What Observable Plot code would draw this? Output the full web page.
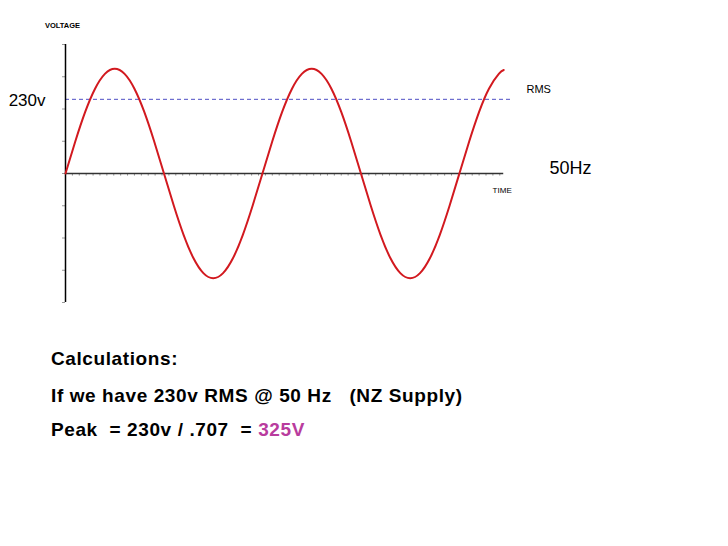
<!DOCTYPE html>
<html>
<head>
<meta charset="utf-8">
<script src="https://cdn.jsdelivr.net/npm/d3@7"></script>
<script src="https://cdn.jsdelivr.net/npm/@observablehq/plot@0.6"></script>
<style>
  body { margin: 0; background: #fff; }
  #wrap { position: relative; width: 728px; height: 546px; font-family: "Liberation Sans", Arial, sans-serif; }
  .calc { position: absolute; left: 51px; font-weight: bold; font-size: 19px; letter-spacing: 0.6px; color: #000; white-space: pre; line-height: 20px; }
  .peak { color: #b93c9e; }
</style>
</head>
<body>
<div id="wrap"></div>
<script>
// Time (ms) and voltage (V) samples (50 Hz, 325 V peak)
const timeMs = [0,1,2,3,4,5,6,7,8,9,10,11,12,13,14,15,16,17,18,19,20,21,22,23,24,25,26,27,28,29,30,31,32,33,34,35,36,37,38,39,40,41,42,43,44,44.5];
const voltage = [0,100,191,263,309,325,309,263,191,100,0,-100,-191,-263,-309,-325,-309,-263,-191,-100,0,100,191,263,309,325,309,263,191,100,0,-100,-191,-263,-309,-325,-309,-263,-191,-100,0,100,191,263,309,321];
const rmsVolts = 230;
const yTicks = [-400,-300,-200,-100,0,100,200,300,400];
const labels = ["VOLTAGE", "230v", "RMS", "50Hz", "TIME"];
const calcLines = ["Calculations:", "If we have 230v RMS @ 50 Hz   (NZ Supply)", "Peak  = 230v / .707  = "];
const peakText = "325V";

const wave = timeMs.map((t, i) => ({t, v: voltage[i]}));
const tEnd = timeMs[timeMs.length - 1];

const chart = Plot.plot({
  width: 728,
  height: 320,
  marginLeft: 65,
  marginRight: 210,
  marginTop: 44,
  marginBottom: 18,
  x: {domain: [0, 46], axis: null},
  y: {domain: [-400, 400], axis: null},
  style: {fontFamily: "Liberation Sans, Arial, sans-serif", background: "#fff"},
  marks: [
    Plot.axisY({ticks: yTicks, tickSize: 3, tickFormat: () => "", label: null, stroke: "#999", strokeWidth: 1}),
    Plot.ruleX(d3.range(0.7, tEnd, 0.7), {x: d => d, y1: 0, y2: -8, stroke: "#777", strokeWidth: 0.8}),
    Plot.ruleY([0], {x1: 0, x2: tEnd, stroke: "#333", strokeWidth: 1.5}),
    Plot.ruleY([rmsVolts], {x1: 0, x2: 45.4, stroke: "#4f4fc4", strokeWidth: 1, strokeDasharray: "4,3"}),
    Plot.ruleX([0], {y1: -400, y2: 400, stroke: "#000", strokeWidth: 1.5}),
    Plot.line(wave, {x: "t", y: "v", curve: "natural", stroke: "#d2191f", strokeWidth: 2}),
    Plot.text([labels[0]], {x: 0, y: 400, text: d => d, dx: -3, dy: -19, fontSize: 7.5, fontWeight: "bold", textAnchor: "middle", fill: "#000"}),
    Plot.text([labels[1]], {x: 0, y: rmsVolts, text: d => d, dx: -20, dy: 1, fontSize: 17, textAnchor: "end", fill: "#000"}),
    Plot.text([labels[2]], {x: 46, y: rmsVolts, text: d => d, dx: 8, dy: -10, fontSize: 11, textAnchor: "start", fill: "#000"}),
    Plot.text([labels[3]], {x: 46, y: 0, text: d => d, dx: 31, dy: -5, fontSize: 18, textAnchor: "start", fill: "#000"}),
    Plot.text([labels[4]], {x: tEnd, y: 0, text: d => d, dx: 8, dy: 17, fontSize: 8, textAnchor: "end", fill: "#000"})
  ]
});
const wrap = document.getElementById("wrap");
wrap.appendChild(chart);

const tops = [349, 386, 420];
calcLines.forEach((s, i) => {
  const div = document.createElement("div");
  div.className = "calc";
  div.style.top = tops[i] + "px";
  div.textContent = s;
  if (i === 2) {
    const sp = document.createElement("span");
    sp.className = "peak";
    sp.textContent = peakText;
    div.appendChild(sp);
  }
  wrap.appendChild(div);
});
</script>
</body>
</html>
